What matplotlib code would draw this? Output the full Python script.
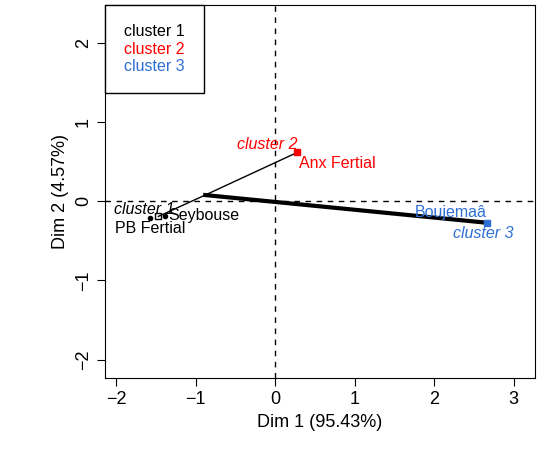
import matplotlib.pyplot as plt

plt.rcParams['font.family'] = ['Liberation Sans', 'DejaVu Sans']

# individuals
names = ["PB Fertial", "Seybouse", "Anx Fertial", "Boujemaa"]
dim1 = [-1.57, -1.39, 0.28, 2.66]
dim2 = [-0.21, -0.18, 0.62, -0.27]
clus = [1, 1, 2, 3]
# cluster centres
centres_x = [-1.47, 0.28, 2.66]
centres_y = [-0.19, 0.62, -0.27]
# tree junction
junction = (-0.88, 0.08)
link_width = [1, 1, 3]
colors = {1: "black", 2: "red", 3: "#2e6fd6"}

fig = plt.figure(figsize=(5.5, 4.74), dpi=100)
ax = fig.add_axes([0.191, 0.203, 0.782, 0.786])
ax.set_xlim(-2.14, 3.27)
ax.set_ylim(-2.23, 2.48)
ax.axhline(0, color="black", ls=(0, (4, 4)), lw=1)
ax.axvline(0, color="black", ls=(0, (4, 4)), lw=1)

for i, (cx, cy) in enumerate(zip(centres_x, centres_y)):
    ax.plot([junction[0], cx], [junction[1], cy], color="black", lw=link_width[i], zorder=2)
    ax.plot(cx, cy, marker="s", mfc="none", mec=colors[i + 1], ms=5, zorder=3)

for n, x, y, c in zip(names, dim1, dim2, clus):
    ax.plot(x, y, "o" if c == 1 else "s", color=colors[c], ms=3, zorder=3)

fs = 11.5
ax.text(-1.57, -0.25, "PB Fertial", color="black", fontsize=fs, ha="center", va="top")
ax.text(-1.35, -0.27, "Seybouse", color="black", fontsize=fs, ha="left", va="bottom")
ax.text(0.3, 0.57, "Anx Fertial", color="red", fontsize=fs, ha="left", va="top")
ax.text(2.66, -0.24, "Boujemaâ", color="#2e6fd6", fontsize=fs, ha="right", va="bottom")
ax.text(-1.65, -0.2, "cluster 1", color="black", fontsize=fs, style="italic", ha="center", va="bottom")
ax.text(-0.1, 0.62, "cluster 2", color="red", fontsize=fs, style="italic", ha="center", va="bottom")
ax.text(2.62, -0.31, "cluster 3", color="#2e6fd6", fontsize=fs, style="italic", ha="center", va="top")

ax.set_xticks([-2, -1, 0, 1, 2, 3])
ax.set_yticks([-2, -1, 0, 1, 2])
ax.tick_params(labelsize=13, length=6)
for lab in ax.get_yticklabels():
    lab.set_rotation(90)
    lab.set_va("center")
ax.set_xlabel("Dim 1 (95.43%)", fontsize=13)
ax.set_ylabel("Dim 2 (4.57%)", fontsize=13)

leg_handles = [plt.Line2D([], [], ls="none") for _ in range(3)]
leg = ax.legend(leg_handles, ["cluster 1", "cluster 2", "cluster 3"], loc="upper left",
                fontsize=11.5, handlelength=0, handletextpad=0, fancybox=False,
                edgecolor="black", borderaxespad=0, borderpad=1.2, labelspacing=0.15,
                framealpha=1)
for t, c in zip(leg.get_texts(), ["black", "red", "#2e6fd6"]):
    t.set_color(c)
leg.get_frame().set_linewidth(1)

fig.savefig("out.png")
